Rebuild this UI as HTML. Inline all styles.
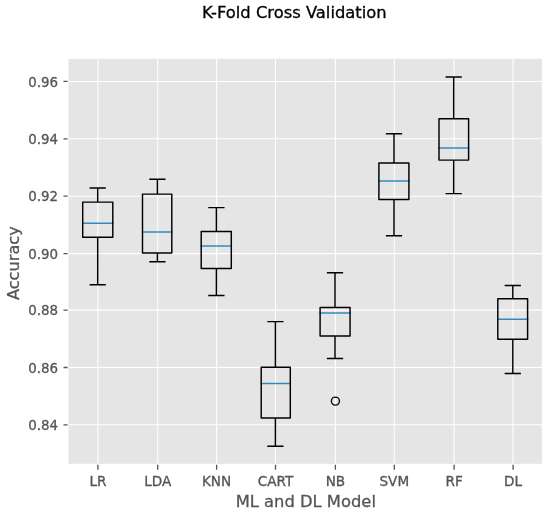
<!DOCTYPE html><html><head><meta charset="utf-8"><style>html,body{margin:0;padding:0;background:#fff;}svg{display:block;}text{font-family:"DejaVu Sans","Liberation Sans",sans-serif;stroke-width:0.3px;}</style></head><body>
<svg width="550" height="515" viewBox="0 0 550 515">
<rect x="0" y="0" width="550" height="515" fill="#fff"/>
<rect x="68.5" y="58.8" width="473.40" height="405.00" fill="#E5E5E5"/>
<path d="M68.5 424.80H541.9 M68.5 367.50H541.9 M68.5 310.10H541.9 M68.5 253.60H541.9 M68.5 196.20H541.9 M68.5 138.80H541.9 M68.5 81.45H541.9 M97.90 58.8V463.8 M157.70 58.8V463.8 M216.60 58.8V463.8 M275.50 58.8V463.8 M335.40 58.8V463.8 M394.30 58.8V463.8 M454.10 58.8V463.8 M513.10 58.8V463.8" stroke="#fff" stroke-width="1.1" fill="none"/>
<path d="M63.5 424.80H67.6 M63.5 367.50H67.6 M63.5 310.10H67.6 M63.5 253.60H67.6 M63.5 196.20H67.6 M63.5 138.80H67.6 M63.5 81.45H67.6 M97.90 464.7V469.7 M157.70 464.7V469.7 M216.60 464.7V469.7 M275.50 464.7V469.7 M335.40 464.7V469.7 M394.30 464.7V469.7 M454.10 464.7V469.7 M513.10 464.7V469.7" stroke="#555" stroke-width="1.3" fill="none"/>
<text x="58.0" y="429.95" font-size="13.4" fill="#555" stroke="#555" text-anchor="end">0.84</text>
<text x="58.0" y="372.65" font-size="13.4" fill="#555" stroke="#555" text-anchor="end">0.86</text>
<text x="58.0" y="315.25" font-size="13.4" fill="#555" stroke="#555" text-anchor="end">0.88</text>
<text x="58.0" y="258.75" font-size="13.4" fill="#555" stroke="#555" text-anchor="end">0.90</text>
<text x="58.0" y="201.35" font-size="13.4" fill="#555" stroke="#555" text-anchor="end">0.92</text>
<text x="58.0" y="143.95" font-size="13.4" fill="#555" stroke="#555" text-anchor="end">0.94</text>
<text x="58.0" y="86.60" font-size="13.4" fill="#555" stroke="#555" text-anchor="end">0.96</text>
<text x="97.90" y="485.7" font-size="13.6" fill="#555" stroke="#555" text-anchor="middle">LR</text>
<text x="157.70" y="485.7" font-size="13.6" fill="#555" stroke="#555" text-anchor="middle">LDA</text>
<text x="216.60" y="485.7" font-size="13.6" fill="#555" stroke="#555" text-anchor="middle">KNN</text>
<text x="275.50" y="485.7" font-size="13.6" fill="#555" stroke="#555" text-anchor="middle">CART</text>
<text x="335.40" y="485.7" font-size="13.6" fill="#555" stroke="#555" text-anchor="middle">NB</text>
<text x="394.30" y="485.7" font-size="13.6" fill="#555" stroke="#555" text-anchor="middle">SVM</text>
<text x="454.10" y="485.7" font-size="13.6" fill="#555" stroke="#555" text-anchor="middle">RF</text>
<text x="513.10" y="485.7" font-size="13.6" fill="#555" stroke="#555" text-anchor="middle">DL</text>
<path d="M82.70 223.3H112.80 M142.50 232.1H171.80 M201.20 246.0H231.30 M261.20 383.4H290.30 M320.10 313.0H350.05 M378.90 180.9H408.90 M439.00 147.9H468.60 M497.80 319.2H527.60" stroke="#348ABD" stroke-width="1.5" fill="none" stroke-linecap="square"/>
<path d="M97.70 237.2V284.7 M97.70 202.1V188.0 M90.29 284.7H105.11 M90.29 188.0H105.11 M82.70 237.2H112.80V202.1H82.70Z M157.40 253.0V261.8 M157.40 194.1V179.3 M149.99 261.8H164.81 M149.99 179.3H164.81 M142.50 253.0H171.80V194.1H142.50Z M216.40 268.4V295.5 M216.40 231.5V207.6 M208.99 295.5H223.81 M208.99 207.6H223.81 M201.20 268.4H231.30V231.5H201.20Z M275.40 417.9V446.3 M275.40 367.2V321.6 M267.99 446.3H282.81 M267.99 321.6H282.81 M261.20 417.9H290.30V367.2H261.20Z M335.00 336.0V358.5 M335.00 307.5V272.8 M327.59 358.5H342.41 M327.59 272.8H342.41 M320.10 336.0H350.05V307.5H320.10Z M394.00 199.4V235.8 M394.00 163.0V133.8 M386.59 235.8H401.41 M386.59 133.8H401.41 M378.90 199.4H408.90V163.0H378.90Z M453.70 160.1V193.6 M453.70 118.8V76.9 M446.29 193.6H461.11 M446.29 76.9H461.11 M439.00 160.1H468.60V118.8H439.00Z M512.80 339.2V373.4 M512.80 298.7V285.5 M505.39 373.4H520.21 M505.39 285.5H520.21 M497.80 339.2H527.60V298.7H497.80Z" stroke="#000" stroke-width="1.45" fill="none" stroke-linecap="square" stroke-linejoin="round"/>
<circle cx="335.40" cy="401.1" r="4.05" stroke="#000" stroke-width="1.3" fill="none"/>
<text x="202.1" y="18.0" font-size="16.35" fill="#000" stroke="#000" stroke-width="0.2">K-Fold Cross Validation</text>
<text x="305.8" y="506.8" font-size="16.35" fill="#555" stroke="#555" stroke-width="0.25" text-anchor="middle">ML and DL Model</text>
<text transform="translate(18.8 263.15) rotate(-90)" font-size="16.2" fill="#555" stroke="#555" stroke-width="0.25" text-anchor="middle">Accuracy</text>
</svg></body></html>
